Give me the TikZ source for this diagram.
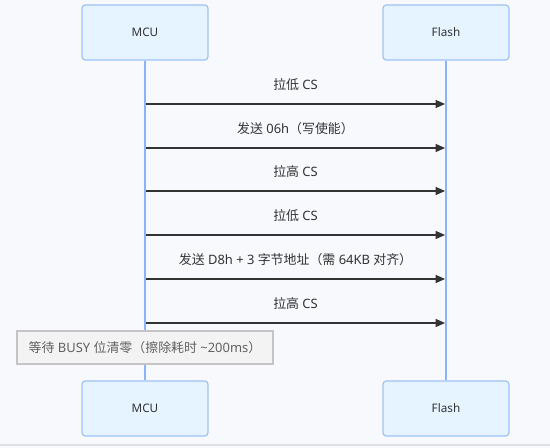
\documentclass[tikz,border=0pt]{standalone}
\usepackage{fontspec}
\setmainfont{Noto Sans}
\newfontfamily\cjkf{Noto Sans CJK SC}
\newcommand{\zh}[1]{{\cjkf #1}}
\usetikzlibrary{arrows.meta}
\definecolor{bgc}{HTML}{F8F9FC}
\definecolor{actfill}{HTML}{E6F4FF}
\definecolor{actdraw}{HTML}{9EC2F7}
\definecolor{lifec}{HTML}{8AB4F8}
\definecolor{txt}{HTML}{333333}
\definecolor{notefill}{HTML}{F3F3F3}
\definecolor{notedraw}{HTML}{C4C4C4}
\tikzset{
  actor/.style={draw=actdraw, fill=actfill, rounded corners=2.5pt, line width=0.9pt,
    minimum width=126*0.75pt, minimum height=55*0.75pt, inner sep=0pt,
    font=\fontsize{8.8pt}{10pt}\selectfont, text=txt},
  life/.style={draw=lifec, line width=1.1pt},
  msg/.style={draw=txt, line width=0.9pt, -{Triangle[length=7pt,width=6pt]}},
  lbl/.style={font=\fontsize{9.7pt}{11pt}\selectfont, text=txt, inner sep=0pt},
  note/.style={draw=notedraw, fill=notefill, line width=0.8pt, minimum width=256*0.75pt,
    minimum height=33*0.75pt, inner sep=0pt, font=\fontsize{9.7pt}{11pt}\selectfont, text=black!62}
}
\begin{document}
\begin{tikzpicture}[x=0.75pt,y=-0.75pt]
\useasboundingbox (0,0) rectangle (550,448);
\fill[bgc] (0,0) rectangle (550,448);
\draw[black!12, line width=1pt] (0,445) -- (550,445);
\node[actor] (mcuT) at (145,32.5) {MCU};
\node[actor] (flT) at (446,32.5) {Flash};
\node[actor] (mcuB) at (145,408.5) {MCU};
\node[actor] (flB) at (446,408.5) {Flash};
\draw[life] (mcuT) -- (mcuB);
\draw[life] (flT) -- (flB);
\foreach \y/\t [count=\i] in {104/{\zh{拉低} CS},148/{\zh{发送} 06h\zh{（写使能）}},191/{\zh{拉高} CS},235/{\zh{拉低} CS},279/{\zh{发送} D8h + 3 \zh{字节地址（需} 64KB \zh{对齐）}},323/{\zh{拉高} CS}}{
  \coordinate (a\i) at (146,\y);
  \coordinate (b\i) at (445,\y);
  \draw[msg] (a\i) -- (b\i);
  \node[lbl] (l\i) at (295.5,\y-19) {\t};
}
\node[note] (n1) at (145,347.5) {\zh{等待} BUSY \zh{位清零（擦除耗时} \textasciitilde200ms\zh{）}};
\end{tikzpicture}
\end{document}
